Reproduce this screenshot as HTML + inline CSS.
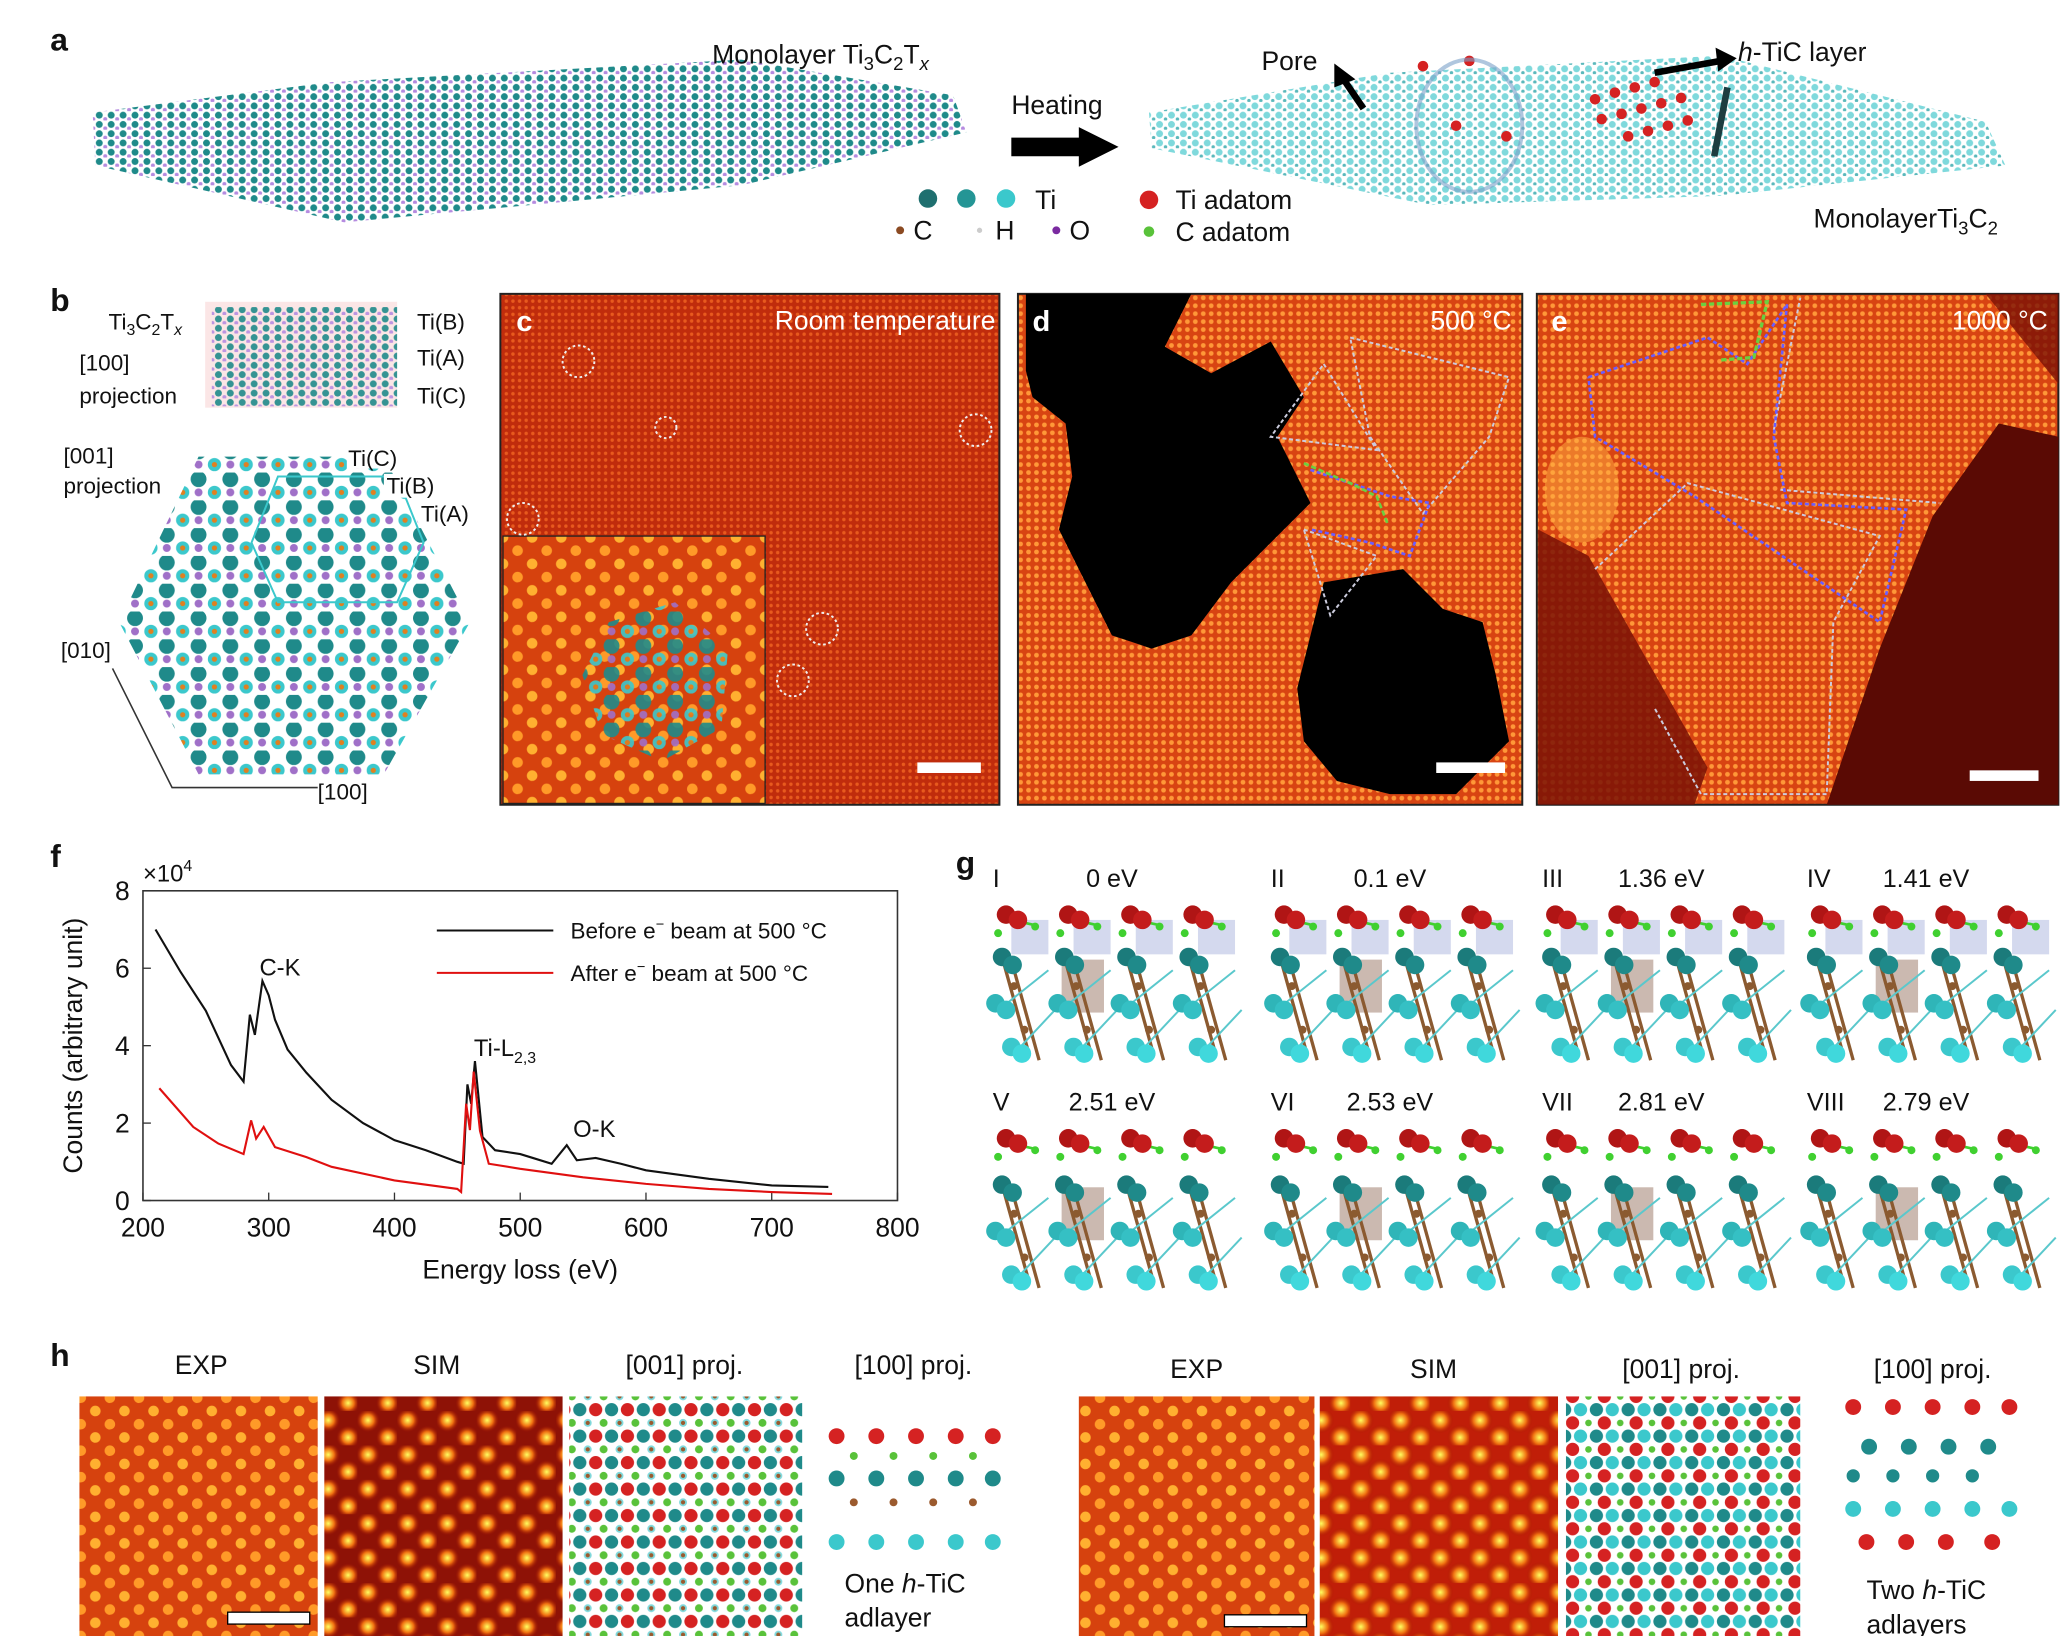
<!DOCTYPE html>
<html><head><meta charset="utf-8"><style>
html,body{margin:0;padding:0;background:#fff}
svg{display:block}
text{font-family:"Liberation Sans",sans-serif;fill:#111}
</style></head><body>
<svg id="fig" width="2065" height="1636" viewBox="0 0 1560 1236" preserveAspectRatio="none" xmlns="http://www.w3.org/2000/svg">
<defs>
<pattern id="latTeal" width="9" height="7" patternUnits="userSpaceOnUse"><circle cx="3" cy="3" r="2.6" fill="#1f8a8a"/><circle cx="7.5" cy="6" r="1.5" fill="#b58be0"/></pattern>
<pattern id="latCyan" width="9" height="7" patternUnits="userSpaceOnUse"><circle cx="3" cy="3" r="2.6" fill="#7fd9dc"/><circle cx="7.5" cy="6" r="1.3" fill="#5ab8bb"/></pattern>
<pattern id="stem" width="5" height="5" patternUnits="userSpaceOnUse"><rect width="5" height="5" fill="#c02c0c"/><circle cx="2.5" cy="2.5" r="1.3" fill="#e85a1e"/></pattern>
<pattern id="stemB" width="6" height="6" patternUnits="userSpaceOnUse"><rect width="6" height="6" fill="#d84412"/><circle cx="3" cy="3" r="1.8" fill="#ff9838"/></pattern>
<pattern id="stemBig" width="22" height="20" patternUnits="userSpaceOnUse"><rect width="22" height="20" fill="#d6420e"/><circle cx="6" cy="6" r="4" fill="#ffb030"/><circle cx="17" cy="16" r="4" fill="#ff9a28"/></pattern>
<radialGradient id="glow"><stop offset="0" stop-color="#ffff60"/><stop offset="0.5" stop-color="#f07010"/><stop offset="1" stop-color="#a01000" stop-opacity="0"/></radialGradient>
<pattern id="sim1" width="30" height="26" patternUnits="userSpaceOnUse"><rect width="30" height="26" fill="#8e1206"/><circle cx="8" cy="7" r="9" fill="url(#glow)"/><circle cx="23" cy="20" r="9" fill="url(#glow)"/></pattern>
<pattern id="sim2" width="30" height="26" patternUnits="userSpaceOnUse"><rect width="30" height="26" fill="#c01e08"/><circle cx="8" cy="7" r="10" fill="url(#glow)"/><circle cx="23" cy="20" r="10" fill="url(#glow)"/></pattern>
<pattern id="proj" width="24" height="20" patternUnits="userSpaceOnUse"><circle cx="6" cy="5" r="5" fill="#1f8a8a"/><circle cx="18" cy="5" r="5" fill="#d52222"/><circle cx="12" cy="15" r="3" fill="#7fd9dc"/><circle cx="12" cy="15" r="1.6" fill="#9b5a2e"/><circle cx="0" cy="15" r="3" fill="#59c23a"/><circle cx="24" cy="15" r="3" fill="#59c23a"/></pattern>
<pattern id="projB" width="24" height="20" patternUnits="userSpaceOnUse"><circle cx="6" cy="5" r="5" fill="#1f8a8a"/><circle cx="18" cy="5" r="5" fill="#3bc8cc"/><circle cx="12" cy="15" r="5" fill="#d52222"/><circle cx="0" cy="15" r="2.5" fill="#59c23a"/><circle cx="24" cy="15" r="2.5" fill="#59c23a"/></pattern>
<pattern id="hexB" width="24" height="21" patternUnits="userSpaceOnUse"><circle cx="6" cy="5" r="6" fill="#1f8a8a"/><circle cx="18" cy="15" r="5" fill="#3bc8cc"/><circle cx="18" cy="15" r="2" fill="#e08020"/><circle cx="6" cy="15" r="3" fill="#a070c8"/></pattern>
</defs>

<!-- PANEL A -->
<g>
<text x="38" y="38" font-size="24" font-weight="bold">a</text>
<polygon points="70,85 250,62 560,45 720,72 730,100 560,140 260,168 72,125" fill="url(#latTeal)"/>
<text x="538" y="48" font-size="20">Monolayer Ti<tspan font-size="14" dy="5">3</tspan><tspan dy="-5">C</tspan><tspan font-size="14" dy="5">2</tspan><tspan dy="-5">T</tspan><tspan font-size="14" dy="5" font-style="italic">x</tspan></text>
<text x="764" y="86" font-size="20">Heating</text>
<polygon points="764,104 815,104 815,96 845,111 815,126 815,118 764,118" fill="#000"/>
<polygon points="868,85 1050,55 1300,42 1500,92 1515,125 1300,148 1080,155 870,112" fill="url(#latCyan)"/>
<g fill="#d52222"><circle cx="1205" cy="75" r="4"/><circle cx="1220" cy="70" r="4"/><circle cx="1235" cy="66" r="4"/><circle cx="1250" cy="62" r="4"/><circle cx="1210" cy="90" r="4"/><circle cx="1225" cy="86" r="4"/><circle cx="1240" cy="82" r="4"/><circle cx="1255" cy="78" r="4"/><circle cx="1270" cy="74" r="4"/><circle cx="1230" cy="103" r="4"/><circle cx="1245" cy="99" r="4"/><circle cx="1260" cy="95" r="4"/><circle cx="1275" cy="91" r="4"/><circle cx="1075" cy="50" r="4"/><circle cx="1110" cy="46" r="4"/><circle cx="1100" cy="95" r="4"/><circle cx="1138" cy="103" r="4"/></g>
<ellipse cx="1110" cy="95" rx="40" ry="50" fill="none" stroke="#7aa0c8" stroke-width="3" opacity="0.6"/>
<text x="953" y="53" font-size="20">Pore</text>
<line x1="1030" y1="82" x2="1015" y2="60" stroke="#000" stroke-width="5"/><polygon points="1008,48 1024,60 1008,66" fill="#000"/>
<line x1="1250" y1="55" x2="1300" y2="46" stroke="#000" stroke-width="5"/><polygon points="1312,44 1296,36 1298,54" fill="#000"/>
<line x1="1295" y1="118" x2="1305" y2="66" stroke="#1d3d40" stroke-width="5"/>
<text x="1313" y="46" font-size="20"><tspan font-style="italic">h</tspan>-TiC layer</text>
<circle cx="701" cy="150" r="7" fill="#1f6f6f"/><circle cx="730" cy="150" r="7" fill="#249595"/><circle cx="760" cy="150" r="7" fill="#3bc8cc"/>
<text x="782" y="158" font-size="20">Ti</text>
<circle cx="680" cy="174" r="3" fill="#8b4a22"/><text x="690" y="181" font-size="20">C</text>
<circle cx="740" cy="174" r="2" fill="#ccc"/><text x="752" y="181" font-size="20">H</text>
<circle cx="798" cy="174" r="3" fill="#7a2aa0"/><text x="808" y="181" font-size="20">O</text>
<circle cx="868" cy="151" r="7" fill="#d52222"/><text x="888" y="158" font-size="20">Ti adatom</text>
<circle cx="868" cy="175" r="4" fill="#59c23a"/><text x="888" y="182" font-size="20">C adatom</text>
<text x="1370" y="172" font-size="20">MonolayerTi<tspan font-size="14" dy="5">3</tspan><tspan dy="-5">C</tspan><tspan font-size="14" dy="5">2</tspan></text>
</g>

<!-- PANEL B -->
<g>
<text x="38" y="235" font-size="24" font-weight="bold">b</text>
<rect x="155" y="228" width="145" height="80" fill="#fbe6e6"/>
<rect x="160" y="232" width="140" height="75" fill="url(#latTeal)" opacity="0.9"/>
<text x="82" y="249" font-size="17">Ti<tspan font-size="12" dy="4">3</tspan><tspan dy="-4">C</tspan><tspan font-size="12" dy="4">2</tspan><tspan dy="-4">T</tspan><tspan font-size="12" dy="4" font-style="italic">x</tspan></text>
<text x="60" y="280" font-size="17">[100]</text><text x="60" y="305" font-size="17">projection</text>
<text x="315" y="249" font-size="17">Ti(B)</text><text x="315" y="276" font-size="17">Ti(A)</text><text x="315" y="305" font-size="17">Ti(C)</text>
<text x="48" y="350" font-size="17">[001]</text><text x="48" y="373" font-size="17">projection</text>
<polygon points="150,345 290,345 355,470 290,585 150,585 90,470" fill="url(#hexB)"/>
<polygon points="210,360 300,360 320,410 300,455 210,455 190,410" fill="none" stroke="#3bc8cc" stroke-width="1.5"/>
<rect x="262" y="336" width="44" height="18" fill="#fff"/><rect x="290" y="358" width="44" height="18" fill="#fff"/><rect x="316" y="378" width="44" height="18" fill="#fff"/>
<text x="263" y="352" font-size="17">Ti(C)</text><text x="292" y="373" font-size="17">Ti(B)</text><text x="318" y="394" font-size="17">Ti(A)</text>
<text x="46" y="497" font-size="17">[010]</text>
<polyline points="85,505 130,595 240,595" fill="none" stroke="#333" stroke-width="1.2"/>
<text x="240" y="604" font-size="17">[100]</text>
</g>

<!-- PANEL C -->
<g>
<rect x="378" y="222" width="377" height="386" fill="url(#stem)" stroke="#222" stroke-width="1.5"/>
<rect x="380" y="405" width="198" height="202" fill="url(#stemBig)" stroke="#222" stroke-width="1"/>
<polygon points="460,470 510,455 550,490 545,550 500,575 455,555 440,510" fill="url(#hexB)" opacity="0.9"/>
<g fill="none" stroke="#eee" stroke-width="1.5" stroke-dasharray="2,2"><circle cx="437" cy="273" r="12"/><circle cx="503" cy="323" r="8"/><circle cx="737" cy="325" r="12"/><circle cx="395" cy="392" r="12"/><circle cx="621" cy="475" r="12"/><circle cx="599" cy="514" r="12"/></g>
<text x="390" y="250" font-size="22" font-weight="bold" style="fill:#fff">c</text>
<text x="752" y="249" font-size="20" text-anchor="end" style="fill:#fff">Room temperature</text>
<rect x="693" y="576" width="48" height="8" fill="#fff"/>
</g>

<!-- PANEL D -->
<g>
<rect x="769" y="222" width="381" height="386" fill="url(#stemB)" stroke="#222" stroke-width="1.5"/>
<path d="M775,222 L900,222 L880,262 L915,282 L960,258 L985,300 L965,330 L990,380 L960,410 L930,440 L900,480 L870,490 L840,480 L820,440 L800,400 L810,360 L805,320 L780,300 L775,280 Z" fill="#000"/>
<path d="M1000,440 L1060,430 L1090,460 L1120,470 L1130,510 L1140,560 L1100,600 L1050,600 L1010,590 L985,560 L980,520 L990,480 Z" fill="#000"/>
<g fill="none" stroke="#ccd" stroke-width="1.5" stroke-dasharray="3,2"><polygon points="1020,255 1140,285 1125,330 1075,388 1035,330"/><polygon points="1000,275 1040,340 960,330"/><polygon points="985,400 1040,420 1005,465"/></g>
<polyline points="990,355 1050,375 1080,380 1065,420 1035,410 990,400" fill="none" stroke="#6a5cff" stroke-width="2" stroke-dasharray="3,2"/>
<polyline points="985,350 1020,365 1040,375 1048,395" fill="none" stroke="#6ad040" stroke-width="2" stroke-dasharray="4,2"/>
<text x="780" y="250" font-size="22" font-weight="bold" style="fill:#fff">d</text>
<text x="1142" y="249" font-size="20" text-anchor="end" style="fill:#fff">500 °C</text>
<rect x="1085" y="576" width="52" height="8" fill="#fff"/>
</g>

<!-- PANEL E -->
<g>
<rect x="1161" y="222" width="394" height="386" fill="url(#stemB)" stroke="#222" stroke-width="1.5"/>
<path d="M1420,490 L1460,390 L1510,320 L1555,330 L1555,608 L1380,608 Z" fill="#5a0a04"/>
<path d="M1162,400 L1200,420 L1290,580 L1280,608 L1162,608 Z" fill="#7a1206" opacity="0.85"/>
<path d="M1500,222 L1555,222 L1555,290 Z" fill="#7a1206" opacity="0.8"/>
<ellipse cx="1195" cy="370" rx="28" ry="40" fill="#ffb040" opacity="0.5"/>
<g fill="none" stroke="#ccd" stroke-width="1.5" stroke-dasharray="3,2"><polyline points="1205,430 1275,365 1420,405 1385,470 1380,600 1285,600 1250,535"/><polyline points="1340,325 1360,225"/><polyline points="1345,370 1465,380"/></g>
<polyline points="1200,285 1290,255 1320,275 1350,230 1340,330 1350,380 1440,385 1420,470 1280,375 1205,330 1200,285" fill="none" stroke="#6a5cff" stroke-width="2" stroke-dasharray="3,2"/>
<polyline points="1285,230 1335,228 1325,270 1300,272" fill="none" stroke="#6ad040" stroke-width="2.5" stroke-dasharray="4,2"/>
<text x="1172" y="250" font-size="22" font-weight="bold" style="fill:#fff">e</text>
<text x="1547" y="249" font-size="20" text-anchor="end" style="fill:#fff">1000 °C</text>
<rect x="1488" y="582" width="52" height="8" fill="#fff"/>
</g>

<!-- PANEL F -->
<g id="chart">
<text x="38" y="655" font-size="24" font-weight="bold">f</text>
<text x="108" y="666" font-size="18">×10<tspan font-size="12" dy="-8">4</tspan></text>
<text x="62" y="790" font-size="20" text-anchor="middle" transform="rotate(-90 62 790)">Counts (arbitrary unit)</text>
<text x="393" y="966" font-size="20" text-anchor="middle">Energy loss (eV)</text>
<g id="ticks"></g>
<g id="lines"></g>
<rect x="108" y="673" width="570" height="234" fill="none" stroke="#333" stroke-width="1.2"/>
<text x="196" y="737" font-size="18">C-K</text>
<text x="358" y="798" font-size="18">Ti-L<tspan font-size="12" dy="5">2,3</tspan></text>
<text x="433" y="859" font-size="18">O-K</text>
<g>
<line x1="330" y1="703" x2="418" y2="703" stroke="#111" stroke-width="1.5"/>
<text x="431" y="709" font-size="17">Before e<tspan font-size="11" dy="-7">−</tspan><tspan dy="7"> beam at 500 °C</tspan></text>
<line x1="330" y1="735" x2="418" y2="735" stroke="#e01010" stroke-width="1.5"/>
<text x="431" y="741" font-size="17">After e<tspan font-size="11" dy="-7">−</tspan><tspan dy="7"> beam at 500 °C</tspan></text>
</g>
</g>

<!-- PANEL G -->
<g id="panelg">
<text x="722" y="660" font-size="24" font-weight="bold">g</text>
</g>

<!-- PANEL H -->
<g>
<text x="38" y="1032" font-size="24" font-weight="bold">h</text>
<text x="152" y="1038" font-size="20" text-anchor="middle">EXP</text>
<text x="330" y="1038" font-size="20" text-anchor="middle">SIM</text>
<text x="517" y="1038" font-size="20" text-anchor="middle">[001] proj.</text>
<text x="690" y="1038" font-size="20" text-anchor="middle">[100] proj.</text>
<rect x="60" y="1055" width="180" height="185" fill="url(#stemBig)"/>
<rect x="172" y="1218" width="62" height="9" fill="#fff" stroke="#000" stroke-width="1"/>
<rect x="245" y="1055" width="180" height="185" fill="url(#sim1)"/>
<rect x="430" y="1055" width="176" height="185" fill="url(#proj)"/>
<g>
<g fill="#d52222"><circle cx="632" cy="1085" r="6"/><circle cx="662" cy="1085" r="6"/><circle cx="692" cy="1085" r="6"/><circle cx="722" cy="1085" r="6"/><circle cx="750" cy="1085" r="6"/></g>
<g fill="#59c23a"><circle cx="645" cy="1100" r="3"/><circle cx="675" cy="1100" r="3"/><circle cx="705" cy="1100" r="3"/><circle cx="735" cy="1100" r="3"/></g>
<g fill="#1f8a8a"><circle cx="632" cy="1117" r="6"/><circle cx="662" cy="1117" r="6"/><circle cx="692" cy="1117" r="6"/><circle cx="722" cy="1117" r="6"/><circle cx="750" cy="1117" r="6"/></g>
<g fill="#9b5a2e"><circle cx="645" cy="1135" r="3"/><circle cx="675" cy="1135" r="3"/><circle cx="705" cy="1135" r="3"/><circle cx="735" cy="1135" r="3"/></g>
<g fill="#3bc8cc"><circle cx="632" cy="1165" r="6"/><circle cx="662" cy="1165" r="6"/><circle cx="692" cy="1165" r="6"/><circle cx="722" cy="1165" r="6"/><circle cx="750" cy="1165" r="6"/></g>
</g>
<text x="638" y="1203" font-size="20">One <tspan font-style="italic">h</tspan>-TiC</text>
<text x="638" y="1229" font-size="20">adlayer</text>

<text x="904" y="1041" font-size="20" text-anchor="middle">EXP</text>
<text x="1083" y="1041" font-size="20" text-anchor="middle">SIM</text>
<text x="1270" y="1041" font-size="20" text-anchor="middle">[001] proj.</text>
<text x="1460" y="1041" font-size="20" text-anchor="middle">[100] proj.</text>
<rect x="815" y="1055" width="178" height="185" fill="url(#stemBig)"/>
<rect x="925" y="1220" width="62" height="9" fill="#fff" stroke="#000" stroke-width="1"/>
<rect x="997" y="1055" width="180" height="185" fill="url(#sim2)"/>
<rect x="1183" y="1055" width="177" height="185" fill="url(#projB)"/>
<g>
<g fill="#d52222"><circle cx="1400" cy="1063" r="6"/><circle cx="1430" cy="1063" r="6"/><circle cx="1460" cy="1063" r="6"/><circle cx="1490" cy="1063" r="6"/><circle cx="1518" cy="1063" r="6"/><circle cx="1410" cy="1165" r="6"/><circle cx="1440" cy="1165" r="6"/><circle cx="1470" cy="1165" r="6"/><circle cx="1505" cy="1165" r="6"/></g>
<g fill="#1f8a8a"><circle cx="1412" cy="1093" r="6"/><circle cx="1442" cy="1093" r="6"/><circle cx="1472" cy="1093" r="6"/><circle cx="1502" cy="1093" r="6"/><circle cx="1400" cy="1115" r="5"/><circle cx="1430" cy="1115" r="5"/><circle cx="1460" cy="1115" r="5"/><circle cx="1490" cy="1115" r="5"/></g>
<g fill="#3bc8cc"><circle cx="1400" cy="1140" r="6"/><circle cx="1430" cy="1140" r="6"/><circle cx="1460" cy="1140" r="6"/><circle cx="1490" cy="1140" r="6"/><circle cx="1518" cy="1140" r="6"/></g>
</g>
<text x="1410" y="1208" font-size="20">Two <tspan font-style="italic">h</tspan>-TiC</text>
<text x="1410" y="1234" font-size="20">adlayers</text>
</g>
</svg>
<script>
const xTicks=[200,300,400,500,600,700,800];
const yTicks=[0,2,4,6,8];
const blackE=[210,230,250,270,280,285,289,295,300,305,315,330,350,375,400,425,450,455,458,461,464,470,480,500,510,525,537,545,560,580,600,650,700,745];
const blackV=[7.0,5.9,4.9,3.5,3.07,4.8,4.28,5.67,5.3,4.67,3.9,3.3,2.6,2.0,1.56,1.3,1.0,0.95,3.0,2.5,3.6,1.64,1.3,1.2,1.1,0.95,1.43,1.04,1.1,0.95,0.78,0.56,0.39,0.35];
const redE=[213,240,260,280,286,290,296,305,330,350,400,450,453,457,460,463,468,475,500,550,600,650,700,748];
const redV=[2.9,1.9,1.47,1.2,2.07,1.6,1.9,1.38,1.12,0.87,0.52,0.3,0.22,2.5,1.82,3.33,1.8,0.95,0.82,0.6,0.43,0.3,0.22,0.17];
const NS='http://www.w3.org/2000/svg';
function xs(v){return 108+(v-200)/600*570;}
function ys(v){return 907-v/8*234;}
const tg=document.getElementById('ticks');
xTicks.forEach(t=>{
 const l=document.createElementNS(NS,'line');
 l.setAttribute('x1',xs(t));l.setAttribute('x2',xs(t));l.setAttribute('y1',907);l.setAttribute('y2',901);l.setAttribute('stroke','#333');
 
 
 tg.appendChild(l);
 const tx=document.createElementNS(NS,'text');
 tx.setAttribute('x',xs(t));tx.setAttribute('y',934);tx.setAttribute('font-size','20');tx.setAttribute('text-anchor','middle');tx.textContent=t;
 
 
 tg.appendChild(tx);
});
yTicks.forEach(t=>{
 const l=document.createElementNS(NS,'line');
 l.setAttribute('x1',108);l.setAttribute('x2',114);l.setAttribute('y1',ys(t));l.setAttribute('y2',ys(t));l.setAttribute('stroke','#333');
 
 
 tg.appendChild(l);
 const tx=document.createElementNS(NS,'text');
 tx.setAttribute('x',98);tx.setAttribute('y',ys(t)+7);tx.setAttribute('font-size','20');tx.setAttribute('text-anchor','end');tx.textContent=t;
 
 
 tg.appendChild(tx);
});
const lg=document.getElementById('lines');
function series(E,V,color,name){
 const p=document.createElementNS(NS,'polyline');
 p.setAttribute('points',E.map((e,i)=>xs(e)+','+ys(V[i])).join(' '));
 p.setAttribute('fill','none');p.setAttribute('stroke',color);p.setAttribute('stroke-width','1.6');
 
 
 lg.appendChild(p);
}
series(blackE,blackV,'#111','before-beam-line');
series(redE,redV,'#e01010','after-beam-line');

// panel g structures (decorative)
const gLabels=[['I','0 eV'],['II','0.1 eV'],['III','1.36 eV'],['IV','1.41 eV'],['V','2.51 eV'],['VI','2.53 eV'],['VII','2.81 eV'],['VIII','2.79 eV']];
const gx=[740,950,1155,1355];
const pg=document.getElementById('panelg');
function circ(g,cx,cy,r,f){const c=document.createElementNS(NS,'circle');c.setAttribute('cx',cx);c.setAttribute('cy',cy);c.setAttribute('r',r);c.setAttribute('fill',f);g.appendChild(c);}
function ln(g,x1,y1,x2,y2,c,w){const l=document.createElementNS(NS,'line');l.setAttribute('x1',x1);l.setAttribute('y1',y1);l.setAttribute('x2',x2);l.setAttribute('y2',y2);l.setAttribute('stroke',c);l.setAttribute('stroke-width',w);g.appendChild(l);}
gLabels.forEach((lb,i)=>{
 const row=Math.floor(i/4),ox=gx[i%4],oy=row?832:663;
 const g=document.createElementNS(NS,'g');
 
 
 const t1=document.createElementNS(NS,'text');t1.setAttribute('x',ox+10);t1.setAttribute('y',oy+7);t1.setAttribute('font-size','19');t1.textContent=lb[0];g.appendChild(t1);
 const t2=document.createElementNS(NS,'text');t2.setAttribute('x',ox+100);t2.setAttribute('y',oy+7);t2.setAttribute('font-size','19');t2.setAttribute('text-anchor','middle');t2.textContent=lb[1];g.appendChild(t2);
 const rt=oy+28;
 const base=row?oy+63:oy+60;
 const rect=document.createElementNS(NS,'rect');rect.setAttribute('x',ox+62);rect.setAttribute('y',base+2);rect.setAttribute('width',32);rect.setAttribute('height',40);rect.setAttribute('fill','#a08070');rect.setAttribute('opacity','0.55');g.appendChild(rect);
 for(let k=0;k<4;k++){
  const bx=ox+12+k*47;
  if(!row){const pr=document.createElementNS(NS,'rect');pr.setAttribute('x',bx+12);pr.setAttribute('y',rt+4);pr.setAttribute('width',28);pr.setAttribute('height',26);pr.setAttribute('fill','#aab4dd');pr.setAttribute('opacity','0.5');g.appendChild(pr);}
  ln(g,bx+5,base,bx+25,base+72,'#8b5a30',2.5);
  ln(g,bx+13,base+6,bx+33,base+78,'#8b5a30',2.5);
  ln(g,bx+5,base+38,bx+40,base+10,'#5ac8cc',1.5);
  ln(g,bx+15,base+72,bx+45,base+40,'#5ac8cc',1.5);
  ln(g,bx+8,rt+3,bx+30,rt+8,'#40d030',2);
  circ(g,bx+8,rt,7,'#b01515');circ(g,bx+17,rt+4,7,'#c41c1c');
  circ(g,bx+30,rt+9,3,'#40d030');circ(g,bx+2,rt+14,3,'#40d030');
  circ(g,bx+5,base,7,'#1b7b7b');circ(g,bx+13,base+6,7,'#1f8a8a');
  circ(g,bx+14,base+22,3,'#8b5a30');circ(g,bx+22,base+55,3,'#8b5a30');
  circ(g,bx,base+35,7,'#2fb5b8');circ(g,bx+8,base+40,7,'#35c0c4');
  circ(g,bx+12,base+68,7,'#3bc8cc');circ(g,bx+20,base+73,7,'#40d8dc');
 }
 pg.appendChild(g);
});
</script>
</body></html>
